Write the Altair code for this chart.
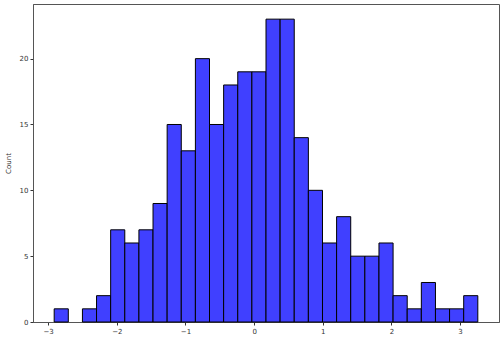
import altair as alt
import pandas as pd
import numpy as np

# Histogram bin counts (30 bins)
counts = [1, 0, 1, 2, 7, 6, 7, 9, 15, 13, 20, 15, 18, 19, 19,
          23, 23, 14, 10, 6, 8, 5, 5, 6, 2, 1, 3, 1, 1, 2]
bin_start = -2.912
bin_end = 3.258
x_ticks = [-3, -2, -1, 0, 1, 2, 3]
y_ticks = [0, 5, 10, 15, 20]

edges = np.linspace(bin_start, bin_end, len(counts) + 1)
df = pd.DataFrame({
    "x0": edges[:-1],
    "x1": edges[1:],
    "count": counts,
})
df = df[df["count"] > 0]

span = bin_end - bin_start
x_dom = [bin_start - 0.05 * span, bin_end + 0.05 * span]
y_dom = [0, max(counts) * 1.05]

font = "DejaVu Sans"

chart = alt.Chart(df).mark_rect(
    fill="#4040ff", stroke="black", strokeWidth=1
).encode(
    x=alt.X("x0:Q", scale=alt.Scale(domain=x_dom, nice=False, zero=False),
            axis=alt.Axis(values=x_ticks, title=None, grid=False, format="d",
                          labelFontSize=7, labelColor="#333", tickColor="#333",
                          domainColor="#555", tickSize=3, labelPadding=2,
                          labelFont=font)),
    x2="x1:Q",
    y=alt.Y("count:Q", scale=alt.Scale(domain=y_dom, nice=False),
            axis=alt.Axis(values=y_ticks, title="Count", grid=False,
                          labelFontSize=7, labelColor="#333", tickColor="#333",
                          domainColor="#555", tickSize=3, labelPadding=2,
                          titleFontSize=7, titleFontWeight="normal",
                          titleColor="#333", titlePadding=8,
                          labelFont=font, titleFont=font)),
    y2=alt.datum(0),
).properties(
    width=466, height=318,
    autosize=alt.AutoSizeParams(type="none"),
    padding={"left": 33, "top": 4, "right": 4, "bottom": 15},
).configure_view(
    stroke="#555", strokeWidth=1
)

chart.save("out.html", embed_options={"renderer": "svg", "actions": False})
